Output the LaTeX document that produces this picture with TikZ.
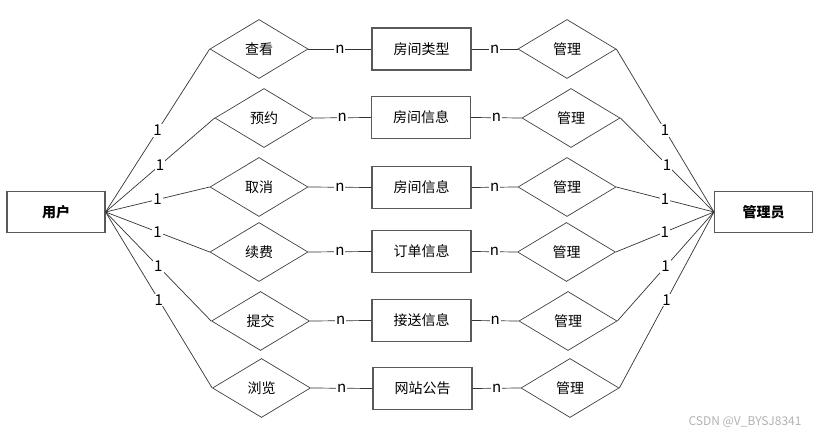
\documentclass[tikz,border=0pt]{standalone}
\usepackage{fontspec}
\setmainfont{Noto Sans CJK SC}
\usetikzlibrary{shapes.geometric}

\tikzset{
  entity/.style={draw=black!65, line width=1.1pt, minimum width=98pt, minimum height=41pt, inner sep=0pt, font=\fontsize{14}{16}\selectfont\bfseries},
  attr/.style={draw=black!65, line width=1.1pt, minimum width=99pt, minimum height=42pt, inner sep=0pt},
  rel/.style={diamond, draw=black!75, line width=0.7pt, minimum width=98pt, minimum height=59pt, inner sep=0pt},
  link/.style={draw=black!80, line width=0.7pt},
  card/.style={fill=white, inner sep=1pt, font=\fontsize{15}{15}\selectfont},
}

\begin{document}
\begin{tikzpicture}[x=1pt, y=-1pt, font=\fontsize{14}{16}\selectfont]
  \useasboundingbox (0,0) rectangle (825,438);

  % entities
  \node[entity] (user) at (56,212) {用户};
  \node[entity] (admin) at (763.5,212) {管理员};

  % user side
  \node[rel] (see) at (259,49) {查看};
  \node[rel] (book) at (264,118) {预约};
  \node[rel] (cancel) at (259,187) {取消};
  \node[rel] (renew) at (259,252) {续费};
  \node[rel] (submit) at (260.5,321) {提交};
  \node[rel] (browse) at (261.5,388) {浏览};

  % middle boxes
  \node[attr] (roomtype) at (421.5,49) {房间类型};
  \node[attr] (roominfoA) at (421,117.5) {房间信息};
  \node[attr] (roominfoB) at (421.5,187.5) {房间信息};
  \node[attr] (order) at (421.5,251.5) {订单信息};
  \node[attr] (pickup) at (421.5,320.5) {接送信息};
  \node[attr] (notice) at (422.5,388.5) {网站公告};

  % admin side
  \node[rel] (mngA) at (567,49) {管理};
  \node[rel] (mngB) at (571,118) {管理};
  \node[rel] (mngC) at (567,187) {管理};
  \node[rel] (mngD) at (566.5,252) {管理};
  \node[rel] (mngE) at (568,321) {管理};
  \node[rel] (mngF) at (570,388) {管理};

  \draw[link] (user.east) -- node[card] {1} (see.west);
  \draw[link] (user.east) -- node[card] {1} (book.west);
  \draw[link] (user.east) -- node[card] {1} (cancel.west);
  \draw[link] (user.east) -- node[card] {1} (renew.west);
  \draw[link] (user.east) -- node[card] {1} (submit.west);
  \draw[link] (user.east) -- node[card] {1} (browse.west);

  \draw[link] (see.east) -- node[card] {n} (roomtype.west);
  \draw[link] (book.east) -- node[card] {n} (roominfoA.west);
  \draw[link] (cancel.east) -- node[card] {n} (roominfoB.west);
  \draw[link] (renew.east) -- node[card] {n} (order.west);
  \draw[link] (submit.east) -- node[card] {n} (pickup.west);
  \draw[link] (browse.east) -- node[card] {n} (notice.west);

  \draw[link] (roomtype.east) -- node[card] {n} (mngA.west);
  \draw[link] (roominfoA.east) -- node[card] {n} (mngB.west);
  \draw[link] (roominfoB.east) -- node[card] {n} (mngC.west);
  \draw[link] (order.east) -- node[card] {n} (mngD.west);
  \draw[link] (pickup.east) -- node[card] {n} (mngE.west);
  \draw[link] (notice.east) -- node[card] {n} (mngF.west);

  \draw[link] (mngA.east) -- node[card] {1} (admin.west);
  \draw[link] (mngB.east) -- node[card] {1} (admin.west);
  \draw[link] (mngC.east) -- node[card] {1} (admin.west);
  \draw[link] (mngD.east) -- node[card] {1} (admin.west);
  \draw[link] (mngE.east) -- node[card] {1} (admin.west);
  \draw[link] (mngF.east) -- node[card] {1} (admin.west);

  % watermark
  \node[text=black!30, font=\fontsize{12}{12}\selectfont, anchor=east] (mark) at (805,422) {CSDN @V\_BYSJ8341};
\end{tikzpicture}
\end{document}
